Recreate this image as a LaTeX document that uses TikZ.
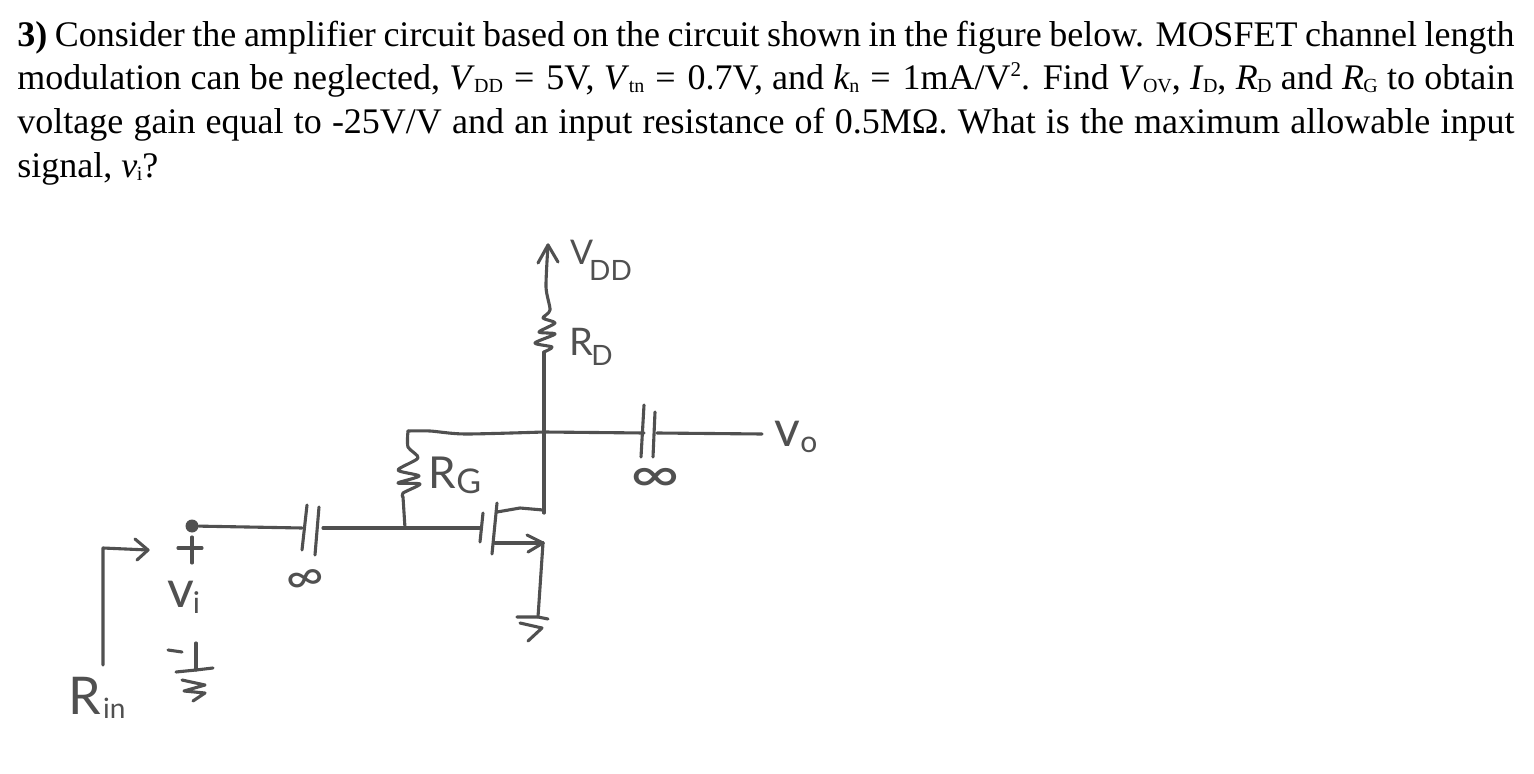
\documentclass[tikz,border=0pt]{standalone}
\usepackage{fontspec}
\setmainfont{Liberation Serif}
\newfontfamily\hand{Lato}
\definecolor{ink}{HTML}{505050}
\newcommand{\ssub}[1]{\kern-0.3pt\raisebox{-1.3pt}{\fontsize{10}{10}\selectfont #1}}
\newcommand{\eqs}{\hspace{5.5pt}=\hspace{6pt}}
\newcommand{\hsub}[3]{\raisebox{#1}{\fontsize{#2}{#2}\selectfont #3}}
\tikzset{
  wire/.style={draw=ink,line width=1.55pt,line cap=round,line join=round},
  scribble/.style={wire,smooth,tension=0.45},
  hw/.style={inner sep=0pt,text=ink,font=\hand},
  body/.style={anchor=base west,inner sep=0pt,text=black,font=\fontsize{18}{18}\selectfont},
}
\newcommand{\jline}[1]{\hbox to 748.5pt{#1}}
\begin{document}
\begin{tikzpicture}[x=0.5pt,y=-0.5pt]
\useasboundingbox (0,0) rectangle (1534,774);
\fill[white] (0,0) rectangle (1534,774);
% problem text
\node[body] (l1) at (17,47) {\jline{\textbf{3)} Consider the amplifier circuit based on the circuit shown in the figure below. MOSFET channel length}};
\node[body] (l2) at (17,90) {\jline{modulation can be neglected, \textit{V}\ssub{DD}\eqs 5V, \textit{V}\ssub{tn}\eqs 0.7V, and \textit{k}\ssub{n}\eqs 1mA/V\raisebox{6.5pt}{\fontsize{10.5}{10.5}\selectfont 2}. Find \textit{V}\ssub{OV}, \textit{I}\ssub{D}, \textit{R}\ssub{D} and \textit{R}\ssub{G} to obtain}};
\node[body] (l3) at (17,134) {\jline{voltage gain equal to -25V/V and an input resistance of 0.5MΩ. What is the maximum allowable input}};
\node[body] (l4) at (17,178) {signal, \textit{v}\ssub{i}?};
% key points
\coordinate (tip) at (548,245);
\coordinate (rdT) at (550,310);
\coordinate (rdB) at (544,352);
\coordinate (J) at (544,432);
\coordinate (D) at (544,513);
\coordinate (rgTop) at (408,431);
\coordinate (rgT) at (408,447);
\coordinate (rgB) at (403,497);
\coordinate (G) at (405,528);
\coordinate (S) at (543,543);
\coordinate (gndS) at (538,617);
\coordinate (out) at (762,434);
\coordinate (c2a) at (302,528);
\coordinate (c2b) at (323,528);
\coordinate (c1a) at (644,433);
\coordinate (c1b) at (657,433);
\coordinate (gate) at (480,528);
\coordinate (chD) at (497,512);
\coordinate (chS) at (495,543);
\coordinate (arrStart) at (103,665);
\coordinate (arrCorner) at (103,548);
\coordinate (arrTip) at (148,550);
\coordinate (gnd2) at (196,670);
\node[circle,fill=ink,minimum size=6.5pt,inner sep=0pt] (dot) at (192,526) {};
% VDD wire and resistor RD
\draw[wire] (538,263) -- (tip) -- (558,262);
\draw[scribble] plot coordinates {(tip) (546,287) (rdT) (543,318) (555,323) (539,332) (555,334) (535,343) (552,347) (rdB)};
\draw[wire] (rdB) -- (J) -- (D);
% RG branch
\draw[scribble] plot coordinates {(J) (465,434) (430,431) (rgTop)};
\draw[scribble] plot coordinates {(rgTop) (rgT) (418,458) (398,470) (419,476) (398,483) (420,484) (403,493) (rgB)};
\draw[wire] (rgB) -- (G);
% output capacitor
\draw[wire] (J) -- (c1a);
\draw[wire] (c1b) -- (out);
\draw[wire] (644,405) -- (641,457);
\draw[wire] (655,412) -- (653,457);
% input wire and capacitor
\draw[wire] (dot) -- (c2a);
\draw[wire] (c2b) -- (gate);
\draw[wire] (307,505) -- (302,550);
\draw[wire] (319,507) -- (315,555);
% MOSFET
\draw[wire] (483,513) -- (480,542);
\draw[wire] (497,503) -- (492,554);
\draw[wire] (chD) -- (520,508) -- (543,510) -- (D);
\draw[wire] (chS) -- (S);
\draw[wire] (527,535) -- (S) -- (528,552);
\draw[wire] (S) -- (gndS);
% source ground
\draw[wire] (517,617) -- (gndS) -- (548,619);
\draw[wire] (520,623) -- (542,628) -- (528,641);
% input plus, minus, ground
\draw[wire] (178,548) -- (202,548);
\draw[wire] (192,537) -- (192,563);
\draw[wire] (168,650) -- (182,652);
\draw[wire] (196,643) -- (gnd2);
\draw[wire] (176,672) -- (gnd2) -- (213,668);
\draw[wire] (182,680) -- (205,685) -- (184,691) -- (205,693) -- (193,701);
% Rin arrow
\draw[wire] (arrStart) -- (arrCorner) -- (arrTip);
\draw[wire] (135,539) -- (arrTip) -- (137,560);
% ∞ marks and handwritten labels
\node[hw,font=\hand\fontsize{26}{26}\selectfont,xscale=1.3,transform shape] (infa) at (655,480) {∞};
\node[hw,font=\hand\fontsize{22}{22}\selectfont,xscale=1.2,rotate=15,transform shape] (infb) at (306,581) {∞};
\node[hw,font=\hand\fontsize{17}{17}\selectfont] (vdd) at (601,260) {V\hspace{-2pt}\hsub{-8pt}{14}{DD}};
\node[hw,font=\hand\fontsize{19}{19}\selectfont] (rd) at (591,347) {R\hspace{-1pt}\hsub{-5pt}{14}{D}};
\node[hw,font=\hand\fontsize{22}{22}\selectfont] (rg) at (455,475) {R\hsub{-2.5pt}{17}{G}};
\node[hw,font=\hand\fontsize{25}{25}\selectfont] (vo) at (796,437) {v\hsub{-3pt}{15}{o}};
\node[hw,font=\hand\fontsize{26}{26}\selectfont] (vi) at (184,597) {v\hspace{-1pt}\hsub{-3pt}{15}{i}};
\node[hw,font=\hand\fontsize{26}{26}\selectfont] (rin) at (97,698) {R\hspace{1pt}\hsub{-2pt}{14}{in}};
\end{tikzpicture}
\end{document}
